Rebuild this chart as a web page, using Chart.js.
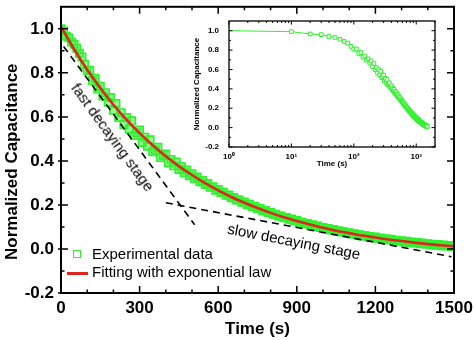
<!DOCTYPE html>
<html>
<head>
<meta charset="utf-8">
<script src="https://cdn.jsdelivr.net/npm/chart.js@4.4.1/dist/chart.umd.min.js"></script>
<style>
  html, body { margin: 0; padding: 0; background: #fff; }
  #wrap { position: relative; width: 474px; height: 340px; overflow: hidden;
          font-family: Arial, "Liberation Sans", Helvetica, sans-serif; color: #000; }
  #main  { position: absolute; left: 0; top: 0; }
  #inset { position: absolute; left: 180px; top: 12px; }
  .note  { position: absolute; font-size: 15px; line-height: 15px; white-space: nowrap;
           transform: translate(-50%, -50%); }
  .lg    { position: absolute; font-size: 15px; line-height: 15px; white-space: nowrap; left: 92px; }
</style>
</head>
<body>
<div id="wrap">
  <canvas id="main" width="474" height="340"></canvas>
  <canvas id="inset" width="265" height="165"></canvas>

  <div class="note" style="left:113px; top:137px; transform: translate(-50%,-50%) rotate(54deg);">fast decaying stage</div>
  <div class="note" style="left:294px; top:241px; transform: translate(-50%,-50%) rotate(11deg);">slow decaying stage</div>

  <span style="position:absolute; left:73px; top:250px; width:6px; height:6px; border:1.2px solid #30f030;"></span>
  <div class="lg" style="top:246px;">Experimental data</div>
  <span style="position:absolute; left:67px; top:272px; width:21px; height:3px; background:#e0241e;"></span>
  <div class="lg" style="top:264px;">Fitting with exponential law</div>
</div>

<script>
// ── Data ─────────────────────────────────────────────────────────────

// measured points, one every 10 s (first reading taken at ~1 s)
const TIME = [
     1,   10,   20,   30,   40,   50,   60,   70,   80,   90,
   100,  110,  120,  130,  140,  150,  160,  170,  180,  190,
   200,  210,  220,  230,  240,  250,  260,  270,  280,  290,
   300,  310,  320,  330,  340,  350,  360,  370,  380,  390,
   400,  410,  420,  430,  440,  450,  460,  470,  480,  490,
   500,  510,  520,  530,  540,  550,  560,  570,  580,  590,
   600,  610,  620,  630,  640,  650,  660,  670,  680,  690,
   700,  710,  720,  730,  740,  750,  760,  770,  780,  790,
   800,  810,  820,  830,  840,  850,  860,  870,  880,  890,
   900,  910,  920,  930,  940,  950,  960,  970,  980,  990,
  1000, 1010, 1020, 1030, 1040, 1050, 1060, 1070, 1080, 1090,
  1100, 1110, 1120, 1130, 1140, 1150, 1160, 1170, 1180, 1190,
  1200, 1210, 1220, 1230, 1240, 1250, 1260, 1270, 1280, 1290,
  1300, 1310, 1320, 1330, 1340, 1350, 1360, 1370, 1380, 1390,
  1400, 1410, 1420, 1430, 1440, 1450, 1460, 1470, 1480, 1490,
  1500
];
const CAPACITANCE = [
  1.000, 0.990, 0.966, 0.959, 0.940, 0.930, 0.912, 0.889, 0.872, 0.838,
  0.810, 0.812, 0.765, 0.775, 0.727, 0.739, 0.695, 0.710, 0.666, 0.688,
  0.630, 0.661, 0.597, 0.619, 0.565, 0.597, 0.544, 0.582, 0.515, 0.528,
  0.541, 0.484, 0.508, 0.467, 0.496, 0.441, 0.450, 0.462, 0.415, 0.425,
  0.431, 0.392, 0.407, 0.378, 0.395, 0.361, 0.373, 0.347, 0.359, 0.333,
  0.342, 0.320, 0.327, 0.305, 0.311, 0.293, 0.297, 0.280, 0.283, 0.267,
  0.270, 0.256, 0.258, 0.244, 0.245, 0.233, 0.234, 0.222, 0.223, 0.212,
  0.213, 0.202, 0.203, 0.192, 0.193, 0.183, 0.184, 0.174, 0.175, 0.165,
  0.167, 0.158, 0.158, 0.150, 0.150, 0.142, 0.143, 0.135, 0.136, 0.128,
  0.129, 0.121, 0.122, 0.115, 0.116, 0.109, 0.110, 0.103, 0.104, 0.097,
  0.098, 0.092, 0.093, 0.086, 0.088, 0.081, 0.083, 0.077, 0.078, 0.072,
  0.074, 0.068, 0.069, 0.063, 0.065, 0.059, 0.061, 0.055, 0.057, 0.052,
  0.054, 0.048, 0.050, 0.045, 0.047, 0.041, 0.044, 0.038, 0.040, 0.035,
  0.038, 0.032, 0.035, 0.029, 0.032, 0.027, 0.029, 0.024, 0.027, 0.022,
  0.024, 0.019, 0.022, 0.017, 0.020, 0.015, 0.018, 0.013, 0.016, 0.011,
  0.014
];

// red exponential fit, every 50 s
const FIT_TIME = [0, 50, 100, 150, 200, 250, 300, 350, 400, 450, 500, 550, 600, 650, 700,
                  750, 800, 850, 900, 950, 1000, 1050, 1100, 1150, 1200, 1250, 1300, 1350,
                  1400, 1450, 1500];
const FIT_VALUE = [1.010, 0.907, 0.814, 0.731, 0.655, 0.587, 0.526, 0.471, 0.421, 0.376,
                   0.336, 0.299, 0.266, 0.236, 0.210, 0.186, 0.164, 0.144, 0.127, 0.111,
                   0.096, 0.083, 0.072, 0.061, 0.052, 0.043, 0.036, 0.029, 0.022, 0.017,
                   0.012];

// dashed guide lines
const FAST_TIME  = [10, 510];
const FAST_VALUE = [0.92, 0.11];
const SLOW_TIME  = [400, 1490];
const SLOW_VALUE = [0.21, -0.035];

// axes
const X_TICKS  = [0, 300, 600, 900, 1200, 1500];
const X_MINOR  = [100, 200, 400, 500, 700, 800, 1000, 1100, 1300, 1400];
const Y_TICKS  = [-0.2, 0, 0.2, 0.4, 0.6, 0.8, 1.0];
const Y_MINOR  = [-0.1, 0.1, 0.3, 0.5, 0.7, 0.9];
const INSET_X_TICKS  = [1, 10, 100, 1000];
const INSET_X_LABELS = ['10\u2070', '10\u00b9', '10\u00b2', '10\u00b3'];
const INSET_X_MINOR  = [2, 3, 4, 5, 6, 7, 8, 9, 20, 30, 40, 50, 60, 70, 80, 90,
                        200, 300, 400, 500, 600, 700, 800, 900, 2000];

const GREEN = '#30f030';
const RED   = '#e0241e';
const FONT  = 'Arial, "Liberation Sans", Helvetica, sans-serif';

// ── Frame + inward ticks ─────────────────────────────────────────────

const boxTicks = {
  id: 'boxTicks',
  afterDatasetsDraw(chart, args, o) {
    const { ctx, chartArea: a, scales: { x, y } } = chart;
    ctx.save();
    ctx.strokeStyle = '#000';
    ctx.lineWidth = o.tickWidth;
    ctx.beginPath();
    const vTick = (px, len) => {
      ctx.moveTo(px, a.bottom); ctx.lineTo(px, a.bottom - len);
      ctx.moveTo(px, a.top);    ctx.lineTo(px, a.top + len);
    };
    const hTick = (py, len, out) => {
      ctx.moveTo(a.left - out, py); ctx.lineTo(a.left + len, py);
      ctx.moveTo(a.right, py);      ctx.lineTo(a.right - len, py);
    };
    o.xMajor.forEach(v => vTick(x.getPixelForValue(v), o.major));
    o.xMinor.forEach(v => vTick(x.getPixelForValue(v), o.minor));
    o.yMajor.forEach(v => hTick(y.getPixelForValue(v), o.major, o.leftOut));
    o.yMinor.forEach(v => hTick(y.getPixelForValue(v), o.minor, 0));
    ctx.stroke();
    ctx.lineWidth = o.frameWidth;
    ctx.strokeRect(a.left, a.top, a.right - a.left, a.bottom - a.top);
    ctx.restore();
  }
};

const pts = (xs, ys) => xs.map((t, i) => ({ x: t, y: ys[i] }));
const noGrid = { display: false, drawTicks: false };

// ── Main chart ───────────────────────────────────────────────────────

new Chart(document.getElementById('main'), {
  type: 'scatter',
  data: {
    datasets: [
      { data: pts(TIME, CAPACITANCE), order: 3, showLine: false, pointStyle: 'rect',
        pointRadius: 5.2, pointBorderWidth: 1.6, pointBorderColor: GREEN,
        pointBackgroundColor: 'rgba(60,245,60,0.55)' },
      { data: pts(FAST_TIME, FAST_VALUE), order: 2, showLine: true, pointRadius: 0,
        borderColor: '#000', borderWidth: 1.6, borderDash: [7, 5] },
      { data: pts(SLOW_TIME, SLOW_VALUE), order: 2, showLine: true, pointRadius: 0,
        borderColor: '#000', borderWidth: 1.6, borderDash: [7, 5] },
      { data: pts(FIT_TIME, FIT_VALUE), order: 1, showLine: true, pointRadius: 0,
        borderColor: RED, borderWidth: 2.6, cubicInterpolationMode: 'monotone' },
    ]
  },
  options: {
    responsive: false,
    animation: false,
    devicePixelRatio: 1,
    layout: { padding: { left: 0, top: 1, right: 20, bottom: 0 } },
    plugins: {
      legend: { display: false },
      tooltip: { enabled: false },
      boxTicks: { xMajor: X_TICKS, xMinor: X_MINOR, yMajor: Y_TICKS, yMinor: Y_MINOR,
                  major: 7, minor: 3.5, leftOut: 3, tickWidth: 1.5, frameWidth: 2 }
    },
    scales: {
      x: {
        type: 'linear', min: 0, max: 1500,
        grid: noGrid, border: { display: false },
        afterBuildTicks: s => { s.ticks = X_TICKS.map(v => ({ value: v })); },
        afterFit: s => { s.height = 47; s.paddingLeft = 0; s.paddingRight = 0; },
        ticks: { color: '#000', padding: 5, maxRotation: 0, callback: v => String(v),
                 font: { family: FONT, size: 17, weight: 'bold' } },
        title: { display: true, text: 'Time (s)', color: '#000', padding: 0,
                 font: { family: FONT, size: 17, weight: 'bold' } }
      },
      y: {
        type: 'linear', min: -0.2, max: 1.1,
        grid: noGrid, border: { display: false },
        afterBuildTicks: s => { s.ticks = Y_TICKS.map(v => ({ value: v })); },
        afterFit: s => { s.width = 61; s.paddingTop = 0; s.paddingBottom = 0; },
        ticks: { color: '#000', padding: 7, callback: v => v.toFixed(1),
                 font: { family: FONT, size: 17, weight: 'bold' } },
        title: { display: true, text: 'Normalized Capacitance\u00a0\u00a0\u00a0\u00a0\u00a0',
                 color: '#000', padding: 2,
                 font: { family: FONT, size: 17, weight: 'bold' } }
      }
    }
  },
  plugins: [boxTicks]
});

// ── Inset (log time axis) ────────────────────────────────────────────

new Chart(document.getElementById('inset'), {
  type: 'scatter',
  data: {
    datasets: [
      { data: pts(TIME, CAPACITANCE), showLine: true, borderColor: GREEN, borderWidth: 1,
        pointStyle: 'rect', pointRadius: c => c.dataIndex === 0 ? 0 : 2.6,
        pointBorderWidth: 1, pointBorderColor: GREEN, pointBackgroundColor: '#fff' }
    ]
  },
  options: {
    responsive: false,
    animation: false,
    devicePixelRatio: 1,
    layout: { padding: { left: 0, top: 9, right: 10, bottom: 0 } },
    plugins: {
      legend: { display: false },
      tooltip: { enabled: false },
      boxTicks: { xMajor: INSET_X_TICKS, xMinor: INSET_X_MINOR, yMajor: Y_TICKS, yMinor: Y_MINOR,
                  major: 3.5, minor: 2, leftOut: 0, tickWidth: 1, frameWidth: 1.3 }
    },
    scales: {
      x: {
        type: 'logarithmic', min: 1, max: 2000,
        grid: noGrid, border: { display: false },
        afterBuildTicks: s => { s.ticks = INSET_X_TICKS.map(v => ({ value: v })); },
        afterFit: s => { s.height = 30; s.paddingLeft = 0; s.paddingRight = 0; },
        ticks: { color: '#000', padding: 5, maxRotation: 0, autoSkip: false,
                 callback: (v, i) => INSET_X_LABELS[i],
                 font: { family: FONT, size: 8, weight: 'bold' } },
        title: { display: true, text: 'Time (s)', color: '#000', padding: 8,
                 font: { family: FONT, size: 8, weight: 'bold' } }
      },
      y: {
        type: 'linear', min: -0.2, max: 1.1,
        grid: noGrid, border: { display: false },
        afterBuildTicks: s => { s.ticks = Y_TICKS.map(v => ({ value: v })); },
        afterFit: s => { s.width = 49; s.paddingTop = 0; s.paddingBottom = 0; },
        ticks: { color: '#000', padding: 10, callback: v => v.toFixed(1),
                 font: { family: FONT, size: 8, weight: 'bold' } },
        title: { display: true, text: 'Normalized Capacitance', color: '#000', padding: 12,
                 font: { family: FONT, size: 8, weight: 'bold' } }
      }
    }
  },
  plugins: [boxTicks]
});
</script>
</body>
</html>
